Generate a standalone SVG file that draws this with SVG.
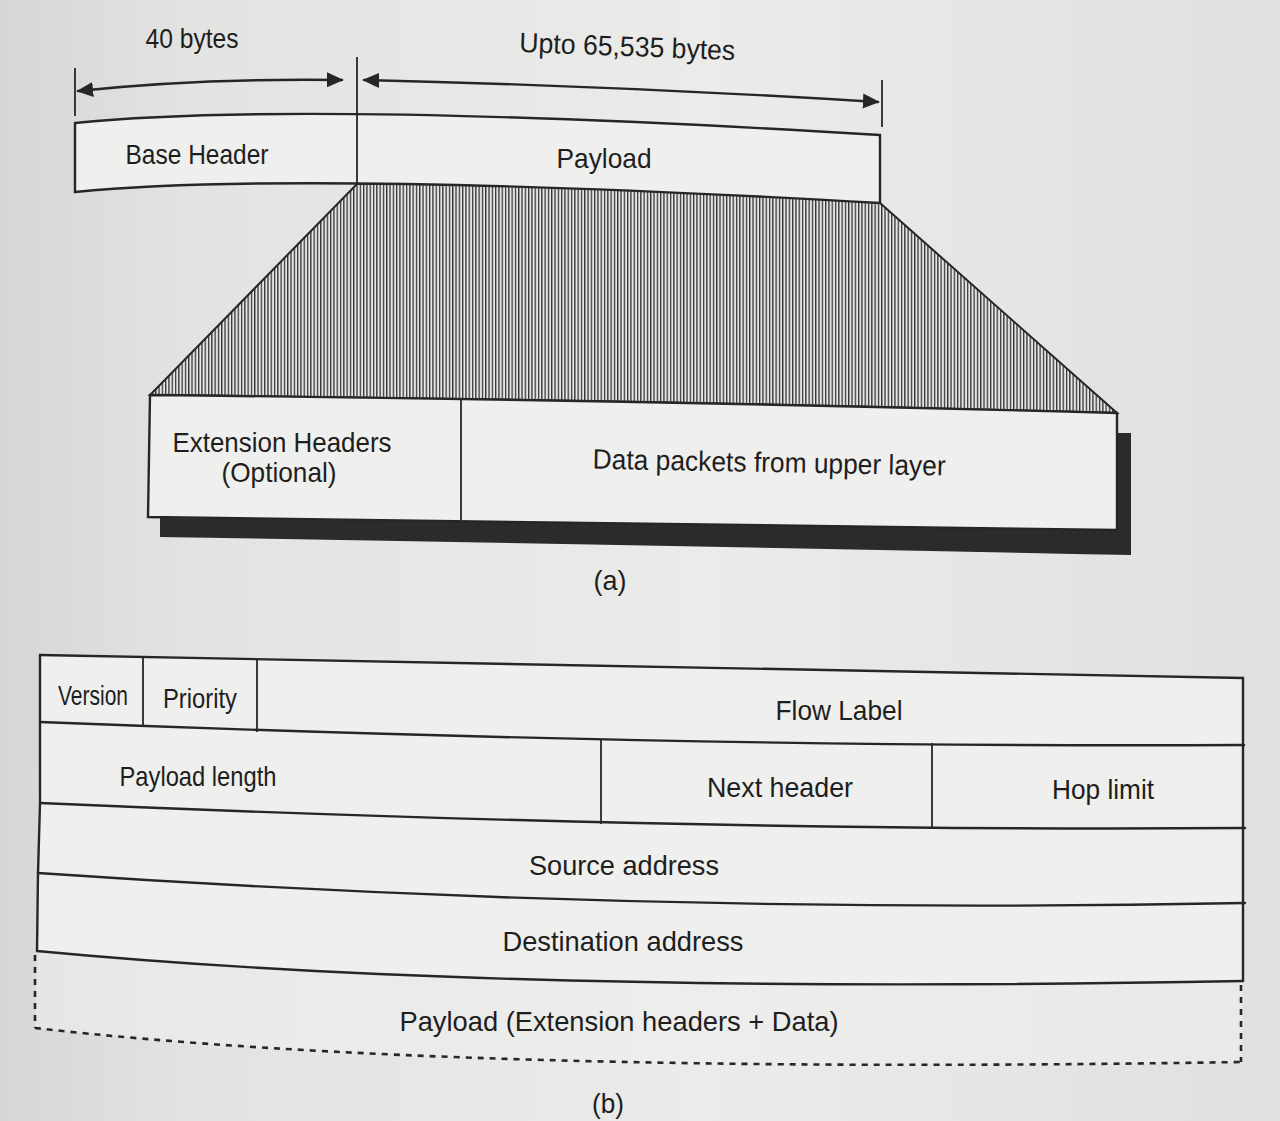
<svg xmlns="http://www.w3.org/2000/svg" width="1280" height="1121" viewBox="0 0 1280 1121">
<defs>
<linearGradient id="page" x1="0" y1="0" x2="1" y2="0">
<stop offset="0" stop-color="#d6d6d4"/>
<stop offset="0.15" stop-color="#e3e3e1"/>
<stop offset="0.55" stop-color="#ebebe9"/>
<stop offset="1" stop-color="#e0e0de"/>
</linearGradient>
<pattern id="hatch" width="3.3" height="10" patternUnits="userSpaceOnUse">
<rect width="3.3" height="10" fill="#e6e6e4"/>
<rect width="1.3" height="10" fill="#333333"/>
</pattern>
<marker id="ah" viewBox="0 0 10 10" refX="9" refY="5" markerWidth="7" markerHeight="7" orient="auto-start-reverse" markerUnits="strokeWidth">
<path d="M0,0.5 L10,5 L0,9.5 z" fill="#262626"/>
</marker>
<style>
.ln{fill:none;stroke:#262626;stroke-width:2.4;stroke-linecap:round}
.thin{fill:none;stroke:#262626;stroke-width:1.8}
.dash{fill:none;stroke:#262626;stroke-width:2.6;stroke-dasharray:6 6}
.box{fill:#efefed}
.t{font-family:"Liberation Sans",Arial,sans-serif;font-size:28px;fill:#1e1e1e;text-anchor:middle}
</style>
</defs>
<rect width="1280" height="1121" fill="url(#page)"/>

<!-- Part (a) -->
<g id="dimension-ticks">
<line class="thin" x1="75" y1="68" x2="75" y2="116"/>
<line class="thin" x1="882" y1="80" x2="882" y2="127"/>
</g>
<g id="connectors">
<path class="ln" d="M78,91 Q200,78 342,80" stroke-width="3" marker-start="url(#ah)" marker-end="url(#ah)"/>
<path class="ln" d="M364,80 Q620,86 878,102" stroke-width="3" marker-start="url(#ah)" marker-end="url(#ah)"/>
</g>
<g id="label-40bytes"><text class="t" x="192" y="48" textLength="93" lengthAdjust="spacingAndGlyphs">40 bytes</text></g>
<g id="label-upto"><text class="t" x="627" y="56" textLength="216" lengthAdjust="spacingAndGlyphs" transform="rotate(2.1 627 56)">Upto 65,535 bytes</text></g>

<g id="hatched-expansion">
<path d="M357,184 Q600,176 880,203 L1117,413 Q640,400 150,395 Z" fill="url(#hatch)" stroke="#262626" stroke-width="2"/>
</g>

<g id="base-header-payload">
<path class="box" d="M75,123 Q300,100 880,135 L880,203 Q300,170 75,192 Z"/>
<path class="ln" d="M75,123 Q300,100 880,135 L880,203 Q300,170 75,192 Z"/>
<line class="thin" x1="357" y1="57" x2="357" y2="184"/>
<text class="t" x="197" y="164" textLength="143" lengthAdjust="spacingAndGlyphs">Base Header</text>
<text class="t" x="604" y="168" textLength="95" lengthAdjust="spacingAndGlyphs">Payload</text>
</g>

<g id="shadow">
<path d="M160,518 Q640,522 1117,530 L1117,433 L1131,433 L1131,555 Q640,545 160,537 Z" fill="#2b2b2b"/>
</g>

<g id="extension-data-box">
<path class="box" d="M150,395 Q640,400 1117,413 L1117,530 Q640,522 148,517 Z"/>
<path class="ln" d="M150,395 Q640,400 1117,413 L1117,530 Q640,522 148,517 Z"/>
<line class="thin" x1="461" y1="398" x2="461" y2="520"/>
<text class="t" x="282" y="452" textLength="219" lengthAdjust="spacingAndGlyphs">Extension Headers</text>
<text class="t" x="279" y="482" textLength="115" lengthAdjust="spacingAndGlyphs">(Optional)</text>
<text class="t" x="769" y="472" textLength="353" lengthAdjust="spacingAndGlyphs" transform="rotate(1.1 769 472)">Data packets from upper layer</text>
</g>
<g id="caption-a"><text class="t" x="610" y="590" textLength="33" lengthAdjust="spacingAndGlyphs">(a)</text></g>

<!-- Part (b) -->
<g id="header-format">
<path class="box" d="M40,655 L1243,678 L1243,981 Q500,995 37,951 Z"/>
<path class="box" d="M37,951 Q500,995 1243,981 L1241,1062 Q450,1075 35,1028 Z" opacity="0.6"/>
<line class="ln" x1="40" y1="655" x2="1243" y2="678"/>
<path class="ln" d="M40,722 Q700,748 1244,745"/>
<path class="ln" d="M40,803 Q700,832 1245,828"/>
<path class="ln" d="M38,873 Q650,915 1245,903"/>
<path class="ln" d="M37,951 Q500,995 1243,981"/>
<path class="ln" d="M40,655 L40,803 L38,873 L37,951"/>
<line class="ln" x1="1243" y1="678" x2="1243" y2="981"/>
<path class="dash" d="M35,955 L35,1028"/>
<path class="dash" d="M1241,985 L1241,1062"/>
<path class="dash" d="M35,1028 Q450,1075 1241,1062"/>
</g>
<g id="row1">
<line class="thin" x1="143" y1="657" x2="143" y2="727"/>
<line class="thin" x1="257" y1="660" x2="257" y2="732"/>
<text class="t" x="93" y="705" textLength="70" lengthAdjust="spacingAndGlyphs">Version</text>
<text class="t" x="200" y="708" textLength="74" lengthAdjust="spacingAndGlyphs">Priority</text>
<text class="t" x="839" y="720" textLength="127" lengthAdjust="spacingAndGlyphs">Flow Label</text>
</g>
<g id="row2">
<line class="thin" x1="601" y1="739" x2="601" y2="824"/>
<line class="thin" x1="932" y1="743" x2="932" y2="827"/>
<text class="t" x="198" y="786" textLength="157" lengthAdjust="spacingAndGlyphs">Payload length</text>
<text class="t" x="780" y="797" textLength="146" lengthAdjust="spacingAndGlyphs">Next header</text>
<text class="t" x="1103" y="799" textLength="102" lengthAdjust="spacingAndGlyphs">Hop limit</text>
</g>
<g id="row3"><text class="t" x="624" y="875" textLength="190" lengthAdjust="spacingAndGlyphs">Source address</text></g>
<g id="row4"><text class="t" x="623" y="951" textLength="241" lengthAdjust="spacingAndGlyphs">Destination address</text></g>
<g id="row5"><text class="t" x="619" y="1031" textLength="439" lengthAdjust="spacingAndGlyphs">Payload (Extension headers + Data)</text></g>
<g id="caption-b"><text class="t" x="608" y="1113" textLength="32" lengthAdjust="spacingAndGlyphs">(b)</text></g>
</svg>
